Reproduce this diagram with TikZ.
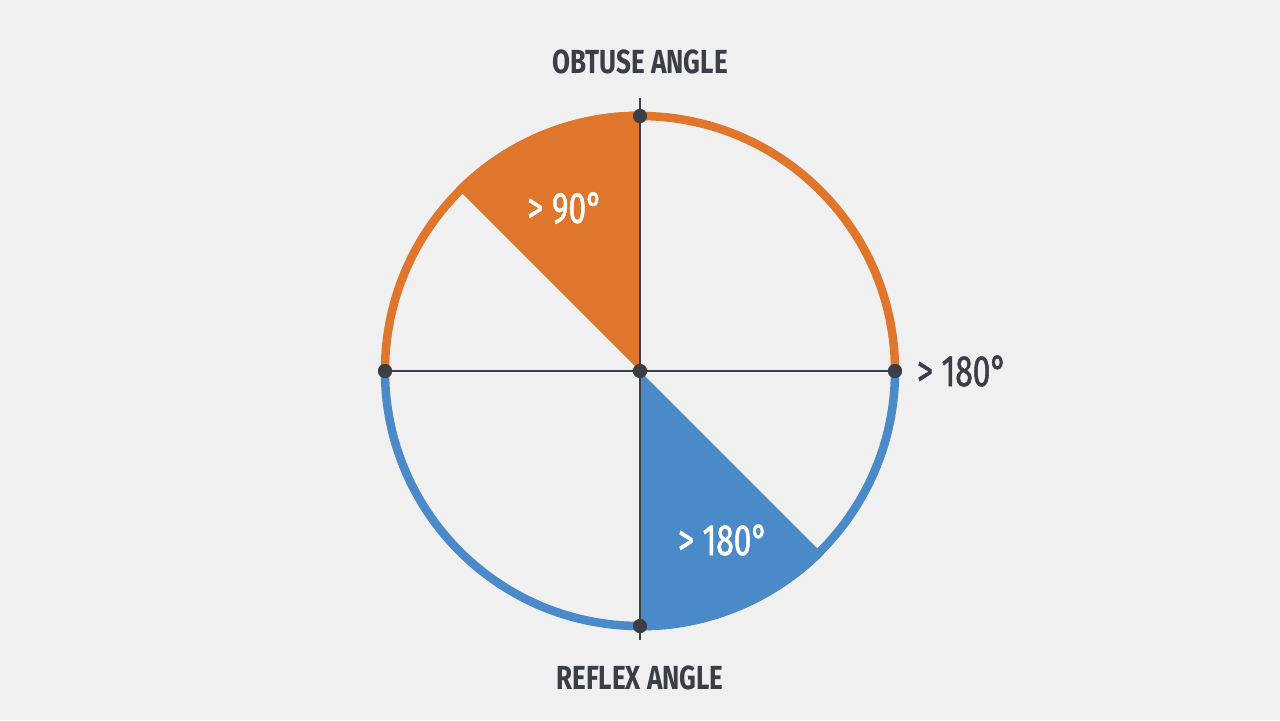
\documentclass[tikz,border=0pt]{standalone}
\usepackage{fontspec}
\usepackage{tikz}
\newfontfamily\anglefont[FakeStretch=0.78]{Fira Sans}
\newfontfamily\measurefont[FakeStretch=0.72,FakeBold=1.2]{Fira Sans}
\definecolor{bgcol}{HTML}{F0F0F0}
\definecolor{obtusecol}{HTML}{E0762B}
\definecolor{reflexcol}{HTML}{4A8AC8}
\definecolor{inkcol}{HTML}{3B3E44}
\newcommand{\rad}{5.1}
\newcommand{\gt}{>\hspace{0.2em}}

\begin{document}
\begin{tikzpicture}
        \tikzstyle{every node} = [inner sep=0pt]
        \tikzstyle{title} = [text=inkcol, font=\anglefont\bfseries\fontsize{19}{22}\selectfont]
        \tikzstyle{measure} = [font=\measurefont\fontsize{25}{28}\selectfont]
        \tikzstyle{dot} = [circle, fill=inkcol, minimum size=0.28cm]
        \useasboundingbox[fill=bgcol] (-12.8,-6.98) rectangle (12.8,7.42);
        % wedges
        \fill[obtusecol] (0,0) -- (135:\rad+0.09) arc (135:90:\rad+0.09) -- cycle;
        \fill[reflexcol] (0,0) -- (270:\rad+0.09) arc (270:315:\rad+0.09) -- cycle;
        % circle halves
        \draw[obtusecol, line width=0.17cm] (\rad,0) arc (0:180:\rad);
        \draw[reflexcol, line width=0.17cm] (-\rad,0) arc (180:360:\rad);
        % axes
        \coordinate (vtop) at (0,5.46);
        \coordinate (vbot) at (0,-5.38);
        \node[dot] (c) at (0,0) {};
        \node[dot] (n) at (90:\rad) {};
        \node[dot] (w) at (180:\rad) {};
        \node[dot] (e) at (0:\rad) {};
        \node[dot] (s) at (270:\rad) {};
        \draw[inkcol, line width=1.1pt] (vtop) -- (vbot);
        \draw[inkcol, line width=1.1pt] (w.center) -- (e.center);
        \foreach \p in {c, n, w, e, s}
            \node[dot] at (\p) {};
        % labels
        \node[title] (obtuse) at (0,6.18) {OBTUSE ANGLE};
        \node[title] (reflex) at (0,-6.14) {REFLEX ANGLE};
        \node[measure, text=white] (m90) at (-1.5,3.26) {\gt 90°};
        \node[measure, text=white] (m180) at (1.66,-3.38) {\gt 180°};
        \node[measure, text=inkcol] (side) at (6.44,0) {\gt 180°};
    \end{tikzpicture}
\end{document}
